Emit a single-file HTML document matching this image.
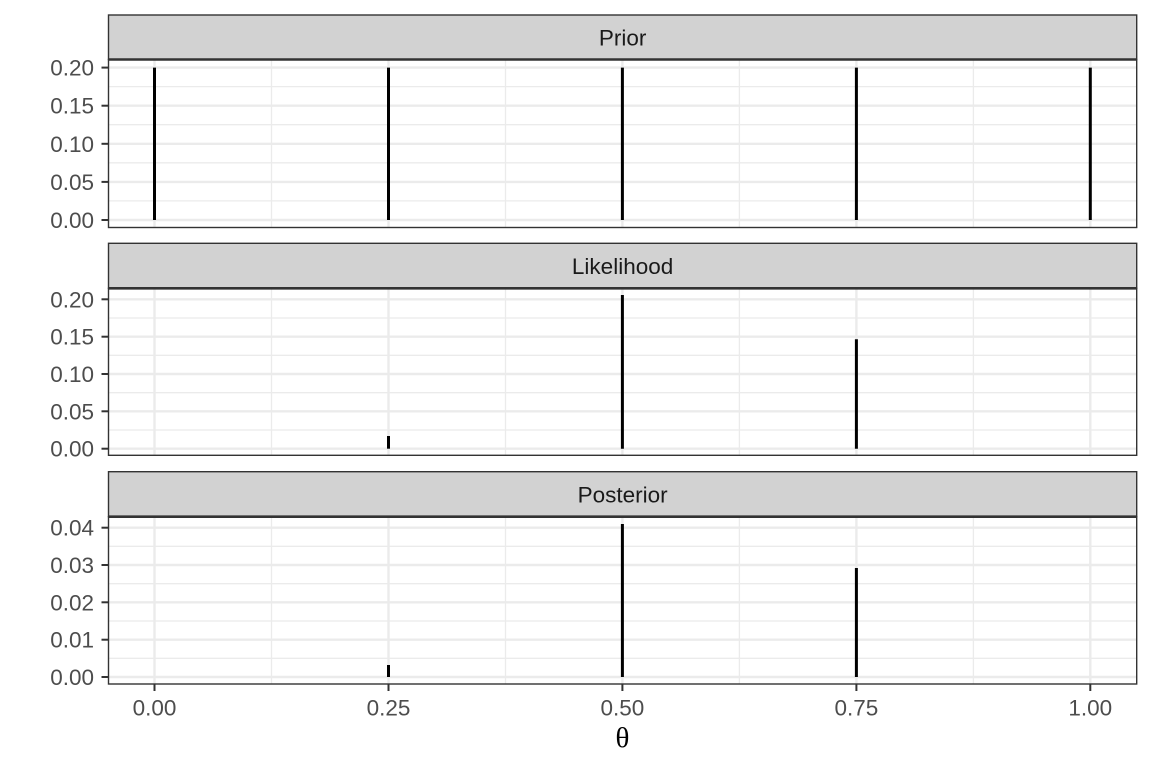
<!DOCTYPE html>
<html>
<head>
<meta charset="utf-8">
<style>
  html,body{margin:0;padding:0;background:#fff;}
  svg{display:block;}
  .yl{font-family:"Liberation Sans",Arial,sans-serif;font-size:22.5px;fill:#4D4D4D;text-anchor:end;}
  .xl{font-family:"Liberation Sans",Arial,sans-serif;font-size:22.5px;fill:#4D4D4D;text-anchor:middle;}
  .st{font-family:"Liberation Sans",Arial,sans-serif;font-size:22.5px;fill:#1A1A1A;text-anchor:middle;}
  .maj{stroke:#EBEBEB;stroke-width:2.4;}
  .min{stroke:#EBEBEB;stroke-width:1.3;}
  .bar{stroke:#000;stroke-width:3;}
  .tk{stroke:#333;stroke-width:2;}
  .sb{stroke:#333;stroke-width:2.6;}
</style>
</head>
<body>
<svg width="1152" height="768" viewBox="0 0 1152 768" xmlns="http://www.w3.org/2000/svg">
  <rect x="0" y="0" width="1152" height="768" fill="#fff"/>

  <!-- ============ Panel 1: Prior ============ -->
  <g>
    <rect x="108.5" y="59.5" width="1028.2" height="168" fill="#fff"/>
    <line class="min" x1="108.5" x2="1136.7" y1="200.9" y2="200.9"/>
    <line class="min" x1="108.5" x2="1136.7" y1="162.8" y2="162.8"/>
    <line class="min" x1="108.5" x2="1136.7" y1="124.7" y2="124.7"/>
    <line class="min" x1="108.5" x2="1136.7" y1="86.6" y2="86.6"/>
    <line class="min" x1="271.5" x2="271.5" y1="59.5" y2="227.5"/>
    <line class="min" x1="505.5" x2="505.5" y1="59.5" y2="227.5"/>
    <line class="min" x1="739.4" x2="739.4" y1="59.5" y2="227.5"/>
    <line class="min" x1="973.4" x2="973.4" y1="59.5" y2="227.5"/>
    <line class="maj" x1="108.5" x2="1136.7" y1="220" y2="220"/>
    <line class="maj" x1="108.5" x2="1136.7" y1="181.9" y2="181.9"/>
    <line class="maj" x1="108.5" x2="1136.7" y1="143.8" y2="143.8"/>
    <line class="maj" x1="108.5" x2="1136.7" y1="105.7" y2="105.7"/>
    <line class="maj" x1="108.5" x2="1136.7" y1="67.6" y2="67.6"/>
    <line class="maj" x1="154.5" x2="154.5" y1="59.5" y2="227.5"/>
    <line class="maj" x1="388.5" x2="388.5" y1="59.5" y2="227.5"/>
    <line class="maj" x1="622.4" x2="622.4" y1="59.5" y2="227.5"/>
    <line class="maj" x1="856.4" x2="856.4" y1="59.5" y2="227.5"/>
    <line class="maj" x1="1090.3" x2="1090.3" y1="59.5" y2="227.5"/>
    <line class="bar" x1="154.5" x2="154.5" y1="220" y2="67.6"/>
    <line class="bar" x1="388.5" x2="388.5" y1="220" y2="67.6"/>
    <line class="bar" x1="622.4" x2="622.4" y1="220" y2="67.6"/>
    <line class="bar" x1="856.4" x2="856.4" y1="220" y2="67.6"/>
    <line class="bar" x1="1090.3" x2="1090.3" y1="220" y2="67.6"/>
    <rect x="108.5" y="59.5" width="1028.2" height="168" fill="none" stroke="#333" stroke-width="1.4"/>
    <rect x="108.5" y="15" width="1028.2" height="44.5" fill="#D2D2D2" stroke="#333" stroke-width="1.4"/>
    <line class="sb" x1="108.5" x2="1136.7" y1="59.5" y2="59.5"/>
    <text class="st" x="622.6" y="45.5">Prior</text>
    <line class="tk" x1="101.5" x2="108.5" y1="220" y2="220"/>
    <line class="tk" x1="101.5" x2="108.5" y1="181.9" y2="181.9"/>
    <line class="tk" x1="101.5" x2="108.5" y1="143.8" y2="143.8"/>
    <line class="tk" x1="101.5" x2="108.5" y1="105.7" y2="105.7"/>
    <line class="tk" x1="101.5" x2="108.5" y1="67.6" y2="67.6"/>
    <text class="yl" x="94" y="228">0.00</text>
    <text class="yl" x="94" y="189.9">0.05</text>
    <text class="yl" x="94" y="151.8">0.10</text>
    <text class="yl" x="94" y="113.7">0.15</text>
    <text class="yl" x="94" y="75.6">0.20</text>
  </g>

  <!-- ============ Panel 2: Likelihood ============ -->
  <g>
    <rect x="108.5" y="288.3" width="1028.2" height="167" fill="#fff"/>
    <line class="min" x1="108.5" x2="1136.7" y1="430" y2="430"/>
    <line class="min" x1="108.5" x2="1136.7" y1="392.7" y2="392.7"/>
    <line class="min" x1="108.5" x2="1136.7" y1="355.3" y2="355.3"/>
    <line class="min" x1="108.5" x2="1136.7" y1="318" y2="318"/>
    <line class="min" x1="271.5" x2="271.5" y1="288.3" y2="455.3"/>
    <line class="min" x1="505.5" x2="505.5" y1="288.3" y2="455.3"/>
    <line class="min" x1="739.4" x2="739.4" y1="288.3" y2="455.3"/>
    <line class="min" x1="973.4" x2="973.4" y1="288.3" y2="455.3"/>
    <line class="maj" x1="108.5" x2="1136.7" y1="448.7" y2="448.7"/>
    <line class="maj" x1="108.5" x2="1136.7" y1="411.3" y2="411.3"/>
    <line class="maj" x1="108.5" x2="1136.7" y1="374" y2="374"/>
    <line class="maj" x1="108.5" x2="1136.7" y1="336.7" y2="336.7"/>
    <line class="maj" x1="108.5" x2="1136.7" y1="299.3" y2="299.3"/>
    <line class="maj" x1="154.5" x2="154.5" y1="288.3" y2="455.3"/>
    <line class="maj" x1="388.5" x2="388.5" y1="288.3" y2="455.3"/>
    <line class="maj" x1="622.4" x2="622.4" y1="288.3" y2="455.3"/>
    <line class="maj" x1="856.4" x2="856.4" y1="288.3" y2="455.3"/>
    <line class="maj" x1="1090.3" x2="1090.3" y1="288.3" y2="455.3"/>
    <line class="bar" x1="388.5" x2="388.5" y1="448.7" y2="436"/>
    <line class="bar" x1="622.4" x2="622.4" y1="448.7" y2="295"/>
    <line class="bar" x1="856.4" x2="856.4" y1="448.7" y2="339.3"/>
    <rect x="108.5" y="288.3" width="1028.2" height="167" fill="none" stroke="#333" stroke-width="1.4"/>
    <rect x="108.5" y="243.3" width="1028.2" height="45" fill="#D2D2D2" stroke="#333" stroke-width="1.4"/>
    <line class="sb" x1="108.5" x2="1136.7" y1="288.3" y2="288.3"/>
    <text class="st" x="622.6" y="274">Likelihood</text>
    <line class="tk" x1="101.5" x2="108.5" y1="448.7" y2="448.7"/>
    <line class="tk" x1="101.5" x2="108.5" y1="411.3" y2="411.3"/>
    <line class="tk" x1="101.5" x2="108.5" y1="374" y2="374"/>
    <line class="tk" x1="101.5" x2="108.5" y1="336.7" y2="336.7"/>
    <line class="tk" x1="101.5" x2="108.5" y1="299.3" y2="299.3"/>
    <text class="yl" x="94" y="456.7">0.00</text>
    <text class="yl" x="94" y="419.3">0.05</text>
    <text class="yl" x="94" y="382">0.10</text>
    <text class="yl" x="94" y="344.7">0.15</text>
    <text class="yl" x="94" y="307.3">0.20</text>
  </g>

  <!-- ============ Panel 3: Posterior ============ -->
  <g>
    <rect x="108.5" y="516.7" width="1028.2" height="167.3" fill="#fff"/>
    <line class="min" x1="108.5" x2="1136.7" y1="658.3" y2="658.3"/>
    <line class="min" x1="108.5" x2="1136.7" y1="621" y2="621"/>
    <line class="min" x1="108.5" x2="1136.7" y1="583.7" y2="583.7"/>
    <line class="min" x1="108.5" x2="1136.7" y1="546.3" y2="546.3"/>
    <line class="min" x1="271.5" x2="271.5" y1="516.7" y2="684"/>
    <line class="min" x1="505.5" x2="505.5" y1="516.7" y2="684"/>
    <line class="min" x1="739.4" x2="739.4" y1="516.7" y2="684"/>
    <line class="min" x1="973.4" x2="973.4" y1="516.7" y2="684"/>
    <line class="maj" x1="108.5" x2="1136.7" y1="677" y2="677"/>
    <line class="maj" x1="108.5" x2="1136.7" y1="639.7" y2="639.7"/>
    <line class="maj" x1="108.5" x2="1136.7" y1="602.3" y2="602.3"/>
    <line class="maj" x1="108.5" x2="1136.7" y1="565" y2="565"/>
    <line class="maj" x1="108.5" x2="1136.7" y1="527.7" y2="527.7"/>
    <line class="maj" x1="154.5" x2="154.5" y1="516.7" y2="684"/>
    <line class="maj" x1="388.5" x2="388.5" y1="516.7" y2="684"/>
    <line class="maj" x1="622.4" x2="622.4" y1="516.7" y2="684"/>
    <line class="maj" x1="856.4" x2="856.4" y1="516.7" y2="684"/>
    <line class="maj" x1="1090.3" x2="1090.3" y1="516.7" y2="684"/>
    <line class="bar" x1="388.5" x2="388.5" y1="677" y2="665"/>
    <line class="bar" x1="622.4" x2="622.4" y1="677" y2="524"/>
    <line class="bar" x1="856.4" x2="856.4" y1="677" y2="568"/>
    <rect x="108.5" y="516.7" width="1028.2" height="167.3" fill="none" stroke="#333" stroke-width="1.4"/>
    <rect x="108.5" y="471.7" width="1028.2" height="45" fill="#D2D2D2" stroke="#333" stroke-width="1.4"/>
    <line class="sb" x1="108.5" x2="1136.7" y1="516.7" y2="516.7"/>
    <text class="st" x="622.6" y="502.3">Posterior</text>
    <line class="tk" x1="101.5" x2="108.5" y1="677" y2="677"/>
    <line class="tk" x1="101.5" x2="108.5" y1="639.7" y2="639.7"/>
    <line class="tk" x1="101.5" x2="108.5" y1="602.3" y2="602.3"/>
    <line class="tk" x1="101.5" x2="108.5" y1="565" y2="565"/>
    <line class="tk" x1="101.5" x2="108.5" y1="527.7" y2="527.7"/>
    <text class="yl" x="94" y="685">0.00</text>
    <text class="yl" x="94" y="647.7">0.01</text>
    <text class="yl" x="94" y="610.3">0.02</text>
    <text class="yl" x="94" y="573">0.03</text>
    <text class="yl" x="94" y="535.7">0.04</text>
  </g>

  <!-- x axis -->
  <line class="tk" x1="154.5" x2="154.5" y1="684" y2="691"/>
  <line class="tk" x1="388.5" x2="388.5" y1="684" y2="691"/>
  <line class="tk" x1="622.4" x2="622.4" y1="684" y2="691"/>
  <line class="tk" x1="856.4" x2="856.4" y1="684" y2="691"/>
  <line class="tk" x1="1090.3" x2="1090.3" y1="684" y2="691"/>
  <text class="xl" x="154.5" y="715.5">0.00</text>
  <text class="xl" x="388.5" y="715.5">0.25</text>
  <text class="xl" x="622.4" y="715.5">0.50</text>
  <text class="xl" x="856.4" y="715.5">0.75</text>
  <text class="xl" x="1090.3" y="715.5">1.00</text>
  <text x="622.4" y="747" text-anchor="middle" style="font-family:'Liberation Serif','DejaVu Serif',serif;font-size:29px;fill:#000;">θ</text>
</svg>
</body>
</html>
